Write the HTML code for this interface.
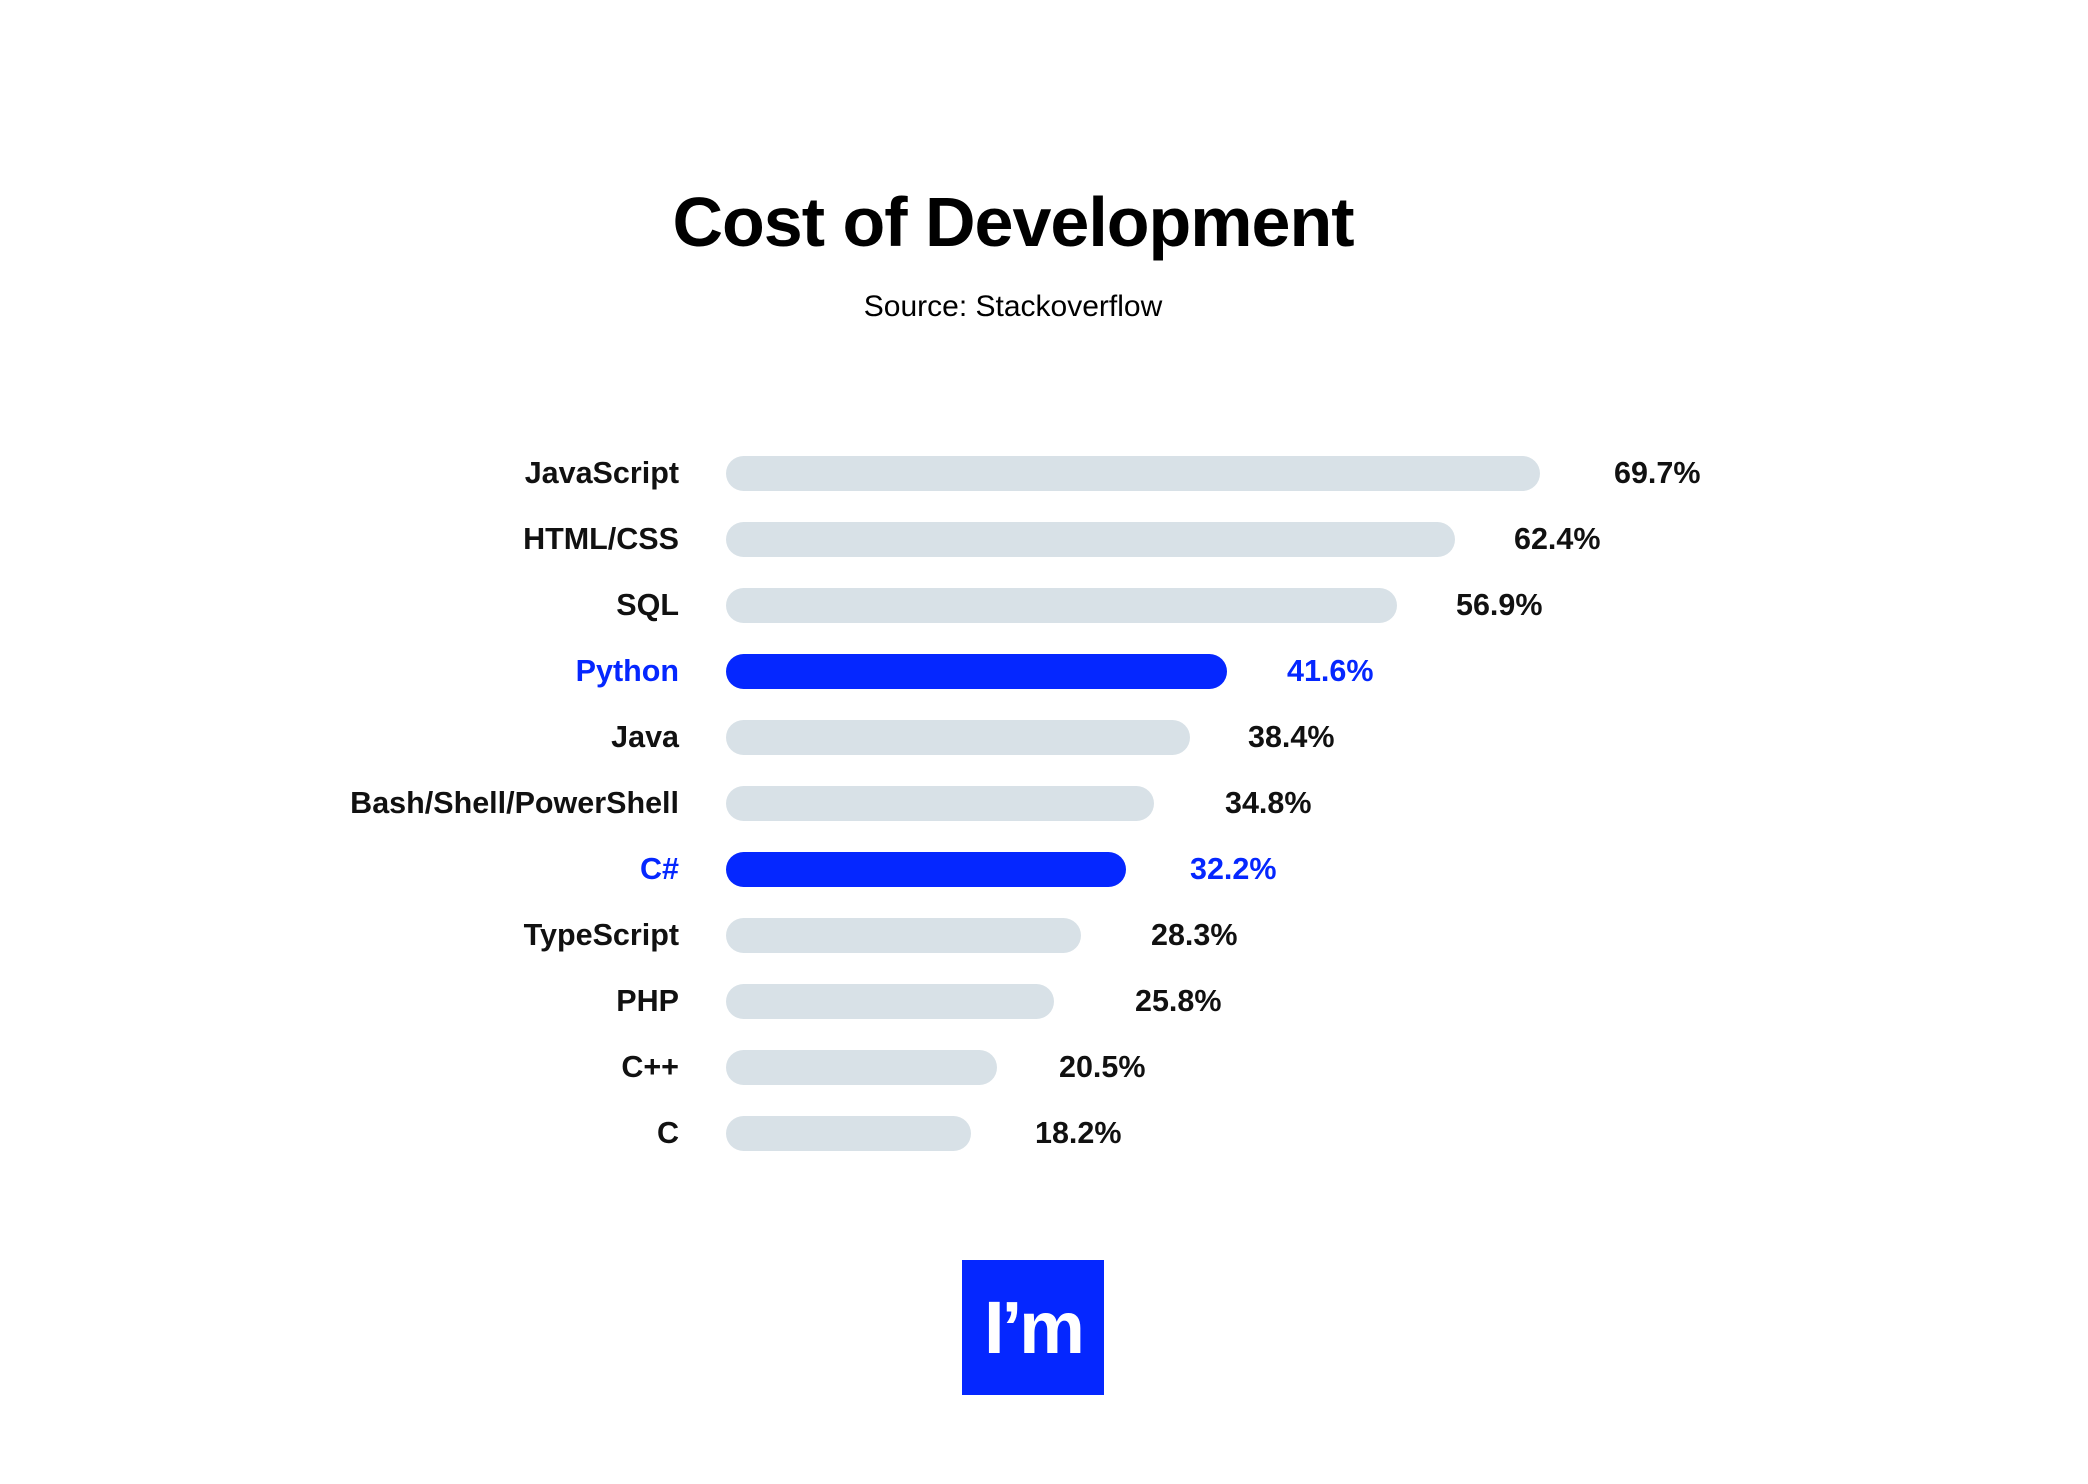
<!DOCTYPE html>
<html><head><meta charset="utf-8"><style>
body{margin:0;width:2088px;height:1484px;background:#fff;position:relative;overflow:hidden;font-family:"Liberation Sans",sans-serif}
.t{position:absolute;left:0;width:2026px;text-align:center;top:182px;font-size:70px;font-weight:bold;color:#000;letter-spacing:-1px}
.s{position:absolute;left:0;width:2026px;text-align:center;top:290px;font-size:30px;color:#000}
.l{position:absolute;right:1409px;font-size:30.5px;font-weight:bold;color:#111;white-space:nowrap;line-height:34px}
.b{position:absolute;left:726px;height:35px;border-radius:18px;background:#d8e1e7}
.v{position:absolute;font-size:30.5px;font-weight:bold;color:#111;line-height:34px}
.h{color:#0527ff!important}.hb{background:#0527ff}
.logo{position:absolute;left:962px;top:1260px;width:142px;height:135px;background:#0527ff;color:#fff;font-weight:bold;font-size:74px;text-align:center;line-height:135px;letter-spacing:-3px}
</style></head><body>
<div class="t">Cost of Development</div>
<div class="s">Source: Stackoverflow</div>
<div class="l" style="top:456px">JavaScript</div><div class="b" style="top:456px;width:814px"></div><div class="v" style="left:1614px;top:456px">69.7%</div>
<div class="l" style="top:522px">HTML/CSS</div><div class="b" style="top:522px;width:729px"></div><div class="v" style="left:1514px;top:522px">62.4%</div>
<div class="l" style="top:588px">SQL</div><div class="b" style="top:588px;width:671px"></div><div class="v" style="left:1456px;top:588px">56.9%</div>
<div class="l h" style="top:654px">Python</div><div class="b hb" style="top:654px;width:501px"></div><div class="v h" style="left:1287px;top:654px">41.6%</div>
<div class="l" style="top:720px">Java</div><div class="b" style="top:720px;width:464px"></div><div class="v" style="left:1248px;top:720px">38.4%</div>
<div class="l" style="top:786px">Bash/Shell/PowerShell</div><div class="b" style="top:786px;width:428px"></div><div class="v" style="left:1225px;top:786px">34.8%</div>
<div class="l h" style="top:852px">C#</div><div class="b hb" style="top:852px;width:400px"></div><div class="v h" style="left:1190px;top:852px">32.2%</div>
<div class="l" style="top:918px">TypeScript</div><div class="b" style="top:918px;width:355px"></div><div class="v" style="left:1151px;top:918px">28.3%</div>
<div class="l" style="top:984px">PHP</div><div class="b" style="top:984px;width:328px"></div><div class="v" style="left:1135px;top:984px">25.8%</div>
<div class="l" style="top:1050px">C++</div><div class="b" style="top:1050px;width:271px"></div><div class="v" style="left:1059px;top:1050px">20.5%</div>
<div class="l" style="top:1116px">C</div><div class="b" style="top:1116px;width:245px"></div><div class="v" style="left:1035px;top:1116px">18.2%</div>
<div class="logo">I’m</div>
</body></html>
